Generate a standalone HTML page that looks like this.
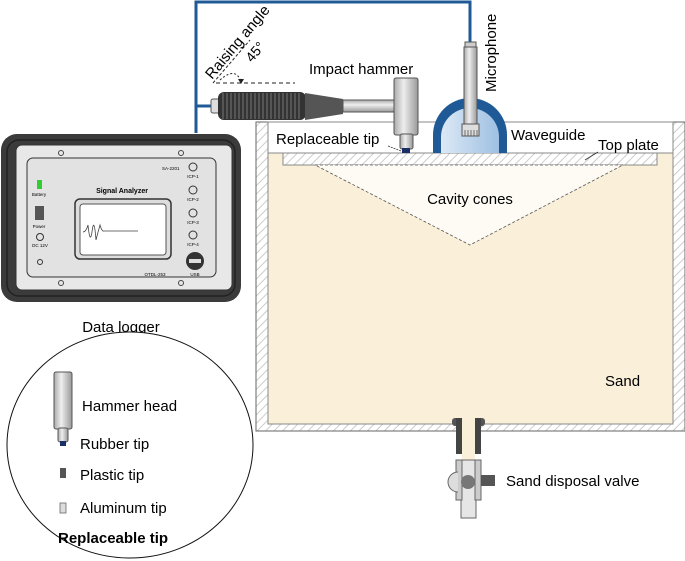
<!DOCTYPE html>
<html><head><meta charset="utf-8"><style>
html,body{margin:0;padding:0;background:#fff;}
svg{display:block;font-family:"Liberation Sans",sans-serif;}
</style></head><body>
<svg width="685" height="561" viewBox="0 0 685 561" xmlns="http://www.w3.org/2000/svg">
<defs>
<pattern id="h" width="6" height="6" patternUnits="userSpaceOnUse" patternTransform="rotate(45)">
<rect width="6" height="6" fill="#fff"/><line x1="0" y1="0" x2="0" y2="6" stroke="#ccc" stroke-width="2"/></pattern>
<linearGradient id="met" x1="0" x2="1"><stop offset="0" stop-color="#aaa"/><stop offset=".4" stop-color="#eee"/><stop offset="1" stop-color="#999"/></linearGradient>
<linearGradient id="metv" x1="0" y1="0" x2="0" y2="1"><stop offset="0" stop-color="#aaa"/><stop offset=".4" stop-color="#eee"/><stop offset="1" stop-color="#999"/></linearGradient>
<linearGradient id="wg" x1="0" x2="1"><stop offset="0" stop-color="#dce9f6"/><stop offset="1" stop-color="#9ec0e2"/></linearGradient>
</defs>
<path d="M196 133 V2 H470 V42" fill="none" stroke="#1f5a96" stroke-width="3"/>
<line x1="196" y1="106" x2="213" y2="106" stroke="#1f5a96" stroke-width="3"/>
<rect x="256" y="122" width="429" height="309" fill="url(#h)" stroke="#666" stroke-width="1"/>
<rect x="268" y="122" width="405" height="31" fill="#fff" stroke="#888" stroke-width="1"/>
<rect x="268" y="153" width="405" height="271" fill="#faefd9" stroke="#888"/>
<rect x="283" y="153" width="374" height="12" fill="url(#h)" stroke="#888"/>
<polygon points="315,165 623,165 470,245" fill="#fdfbf4" stroke="#555" stroke-width="0.8" stroke-dasharray="3,2"/>
<text x="470" y="204" font-size="15" text-anchor="middle">Cavity cones</text>
<text x="605" y="386" font-size="15">Sand</text>
<text x="598" y="150" font-size="15">Top plate</text>
<line x1="598" y1="152" x2="585" y2="160" stroke="#333" stroke-width="0.8"/>
<text x="276" y="144" font-size="15">Replaceable tip</text>
<line x1="388" y1="146" x2="401" y2="151" stroke="#333" stroke-width="0.8" stroke-dasharray="2,1"/>
<path d="M433 153 V135 A37 37 0 0 1 507 135 V153 Z" fill="#1f5a96"/>
<path d="M441 153 V137 A29 29 0 0 1 499 137 V153 Z" fill="url(#wg)"/>
<text x="511" y="140" font-size="15">Waveguide</text>
<rect x="465" y="42" width="11" height="6" fill="#ccc" stroke="#555"/>
<rect x="464" y="47" width="13" height="78" fill="url(#met)" stroke="#555"/>
<rect x="462" y="124" width="17" height="12" fill="#ddd" stroke="#555"/>
<g stroke="#555" stroke-width="0.8"><path d="M465 130V136M468 130V136M471 130V136M474 130V136M477 130V136"/></g>
<text font-size="15" transform="translate(496,92) rotate(-90)">Microphone</text>
<rect x="211" y="99" width="9" height="14" rx="2" fill="#ddd" stroke="#555"/>
<rect x="218" y="92" width="88" height="28" rx="6" fill="#333"/>
<g stroke="#777" stroke-width="1"><path d="M223 93V119M227 93V119M231 93V119M235 93V119M239 93V119M243 93V119M247 93V119M251 93V119M255 93V119M259 93V119M263 93V119M267 93V119M271 93V119M275 93V119M279 93V119M283 93V119M287 93V119M291 93V119M295 93V119M299 93V119"/></g>
<polygon points="305,93 343,99 343,114 305,120" fill="#555"/>
<rect x="343" y="100" width="52" height="12" fill="url(#metv)" stroke="#555"/>
<rect x="394" y="78" width="24" height="57" rx="2" fill="url(#met)" stroke="#555"/>
<rect x="400" y="134" width="13" height="15" rx="2" fill="url(#met)" stroke="#555"/>
<rect x="402" y="148" width="8" height="5" fill="#1a2f66"/>
<text x="309" y="74" font-size="15">Impact hammer</text>
<line x1="216" y1="83" x2="295" y2="83" stroke="#222" stroke-dasharray="4,3"/>
<path d="M220 80 Q236 66 241 82" fill="none" stroke="#222" stroke-dasharray="2,2"/>
<polygon points="238,79 244,79 241,84" fill="#222"/>
<line x1="213" y1="83" x2="250" y2="40" stroke="#222" stroke-dasharray="3,2"/>
<text font-size="15" transform="translate(212,80) rotate(-50)">Raising angle</text>
<text font-size="14" transform="translate(252,63) rotate(-50)">45°</text>
<rect x="452" y="418" width="33" height="8" rx="3" fill="#555"/>
<rect x="456" y="418" width="6" height="36" fill="#444"/>
<rect x="475" y="418" width="6" height="36" fill="#444"/>
<rect x="462" y="418" width="13" height="100" fill="#faefd9"/>
<rect x="461" y="460" width="15" height="58" fill="#e6e6e6" stroke="#666"/>
<rect x="456" y="460" width="6" height="40" fill="#ccc" stroke="#666"/>
<rect x="475" y="460" width="6" height="40" fill="#ccc" stroke="#666"/>
<path d="M458 472 A10 10 0 0 0 458 492" fill="#ddd" stroke="#666"/>
<circle cx="468" cy="482" r="7" fill="#777"/>
<rect x="481" y="475" width="14" height="11" fill="#555"/>
<text x="506" y="486" font-size="15">Sand disposal valve</text>
<rect x="1" y="134" width="240" height="168" rx="16" fill="#3b3b3b"/>
<rect x="7" y="140" width="228" height="156" rx="12" fill="none" stroke="#222" stroke-width="1.5"/>
<rect x="16" y="145" width="216" height="145" rx="6" fill="#e8e8e8" stroke="#333"/>
<rect x="27" y="158" width="189" height="119" rx="6" fill="#e2e2e2" stroke="#333"/>
<g fill="none" stroke="#444"><circle cx="61" cy="153" r="2.5"/><circle cx="181" cy="153" r="2.5"/><circle cx="61" cy="283" r="2.5"/><circle cx="181" cy="283" r="2.5"/></g>
<rect x="75" y="199" width="96" height="60" rx="5" fill="#ddd" stroke="#333" stroke-width="1.5"/>
<rect x="80" y="204" width="86" height="51" rx="3" fill="#fff" stroke="#555"/>
<path d="M83 232 Q86 232 88 225 Q90 245 92 232 Q94 215 96 240 Q98 232 100 225 Q102 232 104 231 H138" fill="none" stroke="#444" stroke-width="0.8"/>
<text x="122" y="193" font-size="7" font-weight="bold" text-anchor="middle">Signal Analyzer</text>
<rect x="37" y="180" width="5" height="9" fill="#3c3"/>
<text x="39" y="196" font-size="4.5" text-anchor="middle">Battery</text>
<rect x="35" y="206" width="9" height="14" fill="#555"/>
<text x="39" y="228" font-size="4.5" text-anchor="middle">Power</text>
<circle cx="40" cy="237" r="3.5" fill="none" stroke="#333"/>
<text x="40" y="247" font-size="4.5" text-anchor="middle">DC 12V</text>
<circle cx="40" cy="262" r="2.5" fill="none" stroke="#333"/>
<text x="162" y="170" font-size="4.5">SA-2201</text>
<g fill="none" stroke="#333"><circle cx="193" cy="167" r="4"/><circle cx="193" cy="190" r="4"/><circle cx="193" cy="213" r="4"/><circle cx="193" cy="235" r="4"/></g>
<g font-size="4.5" text-anchor="middle"><text x="193" y="178">ICP-1</text><text x="193" y="201">ICP-2</text><text x="193" y="224">ICP-3</text><text x="193" y="246">ICP-4</text><text x="195" y="276">USB</text><text x="155" y="276">OTDL-253</text></g>
<circle cx="195" cy="261" r="9" fill="#333"/>
<rect x="189" y="259" width="12" height="4" fill="#ddd"/>
<text x="121" y="332" font-size="15" text-anchor="middle">Data logger</text>
<ellipse cx="130" cy="445" rx="123" ry="113" fill="#fff" stroke="#111"/>
<rect x="54" y="372" width="18" height="57" rx="2" fill="url(#met)" stroke="#555"/>
<rect x="58" y="428" width="10" height="14" rx="2" fill="url(#met)" stroke="#555"/>
<rect x="60" y="441" width="6" height="5" fill="#1a2f66"/>
<rect x="60" y="468" width="6" height="10" fill="#555"/>
<rect x="60" y="503" width="6" height="10" fill="#ddd" stroke="#555" stroke-width="0.7"/>
<g font-size="15"><text x="82" y="411">Hammer head</text><text x="80" y="449">Rubber tip</text><text x="80" y="480">Plastic tip</text><text x="80" y="513">Aluminum tip</text>
<text x="58" y="543" font-weight="bold">Replaceable tip</text></g>
</svg>
</body></html>
